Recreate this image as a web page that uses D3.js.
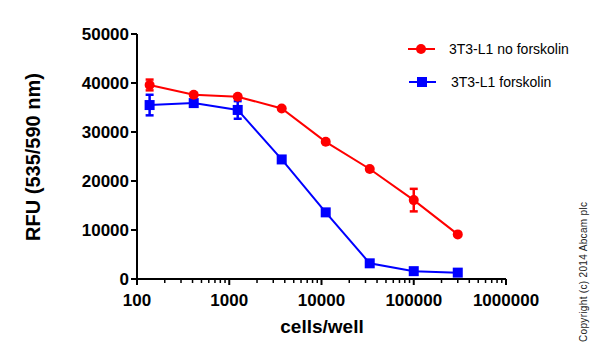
<!DOCTYPE html>
<html><head><meta charset="utf-8">
<script src="https://cdn.jsdelivr.net/npm/d3@7"></script>
<style>body{margin:0;background:#fff;}svg{display:block;font-family:"Liberation Sans",Arial,sans-serif;}</style>
</head><body><svg id="c" width="600" height="355"></svg>
<script>
const cells = [137, 412, 1235, 3704, 11111, 33333, 100000, 300000];
const noForskolin = [39600, 37600, 37200, 34800, 28000, 22450, 16100, 9100];
const noForskolinErr = [1100, 0, 0, 0, 0, 0, 2300, 0];
const forskolin = [35500, 35900, 34500, 24400, 13600, 3200, 1600, 1300];
const forskolinErr = [2100, 0, 1800, 0, 0, 0, 0, 0];
const xTicks = [100, 1000, 10000, 100000, 1000000];
const yTicks = [0, 10000, 20000, 30000, 40000, 50000];
const seriesNames = ["3T3-L1 no forskolin", "3T3-L1 forskolin"];

const svg = d3.select("#c");
const x = d3.scaleLog().domain([100, 1000000]).range([137, 506]);
const y = d3.scaleLinear().domain([0, 50000]).range([279, 34]);

// x axis
const xg = svg.append("g");
xg.append("line").attr("x1", 137).attr("x2", 506).attr("y1", 279).attr("y2", 279).attr("stroke", "#000").attr("stroke-width", 2);
const minor = [];
for (let d = 100; d < 1000000; d *= 10) for (let k = 2; k <= 9; k++) minor.push(d * k);
xg.selectAll(".mn").data(minor).enter().append("line")
  .attr("x1", d => x(d)).attr("x2", d => x(d)).attr("y1", 279).attr("y2", 283)
  .attr("stroke", "#000").attr("stroke-width", 1.5);
xg.selectAll(".mj").data(xTicks).enter().append("line")
  .attr("x1", d => x(d)).attr("x2", d => x(d)).attr("y1", 279).attr("y2", 285)
  .attr("stroke", "#000").attr("stroke-width", 2);
xg.selectAll(".xl").data(xTicks).enter().append("text")
  .attr("x", d => x(d)).attr("y", 306).attr("text-anchor", "middle")
  .attr("font-size", 17).attr("font-weight", "bold").text(d => d);
svg.append("text").attr("x", 322).attr("y", 333).attr("text-anchor", "middle")
  .attr("font-size", 19).attr("font-weight", "bold").text("cells/well");

// y axis
const yg = svg.append("g");
yg.append("line").attr("x1", 137).attr("x2", 137).attr("y1", 34).attr("y2", 280).attr("stroke", "#000").attr("stroke-width", 2);
yg.selectAll(".yt").data(yTicks).enter().append("line")
  .attr("x1", 131).attr("x2", 137).attr("y1", d => y(d)).attr("y2", d => y(d))
  .attr("stroke", "#000").attr("stroke-width", 2);
yg.selectAll(".yl").data(yTicks).enter().append("text")
  .attr("x", 129).attr("y", d => y(d) + 6).attr("text-anchor", "end")
  .attr("font-size", 17).attr("font-weight", "bold").text(d => d);
svg.append("text").attr("transform", "translate(40,157) rotate(-90)").attr("text-anchor", "middle")
  .attr("font-size", 20).attr("font-weight", "bold").text("RFU (535/590 nm)");

const line = d3.line().x(d => x(d[0])).y(d => y(d[1]));
function drawSeries(vals, errs, color, shape) {
  const pts = cells.map((c, i) => [c, vals[i], errs[i]]);
  svg.append("path").datum(pts).attr("d", line).attr("fill", "none").attr("stroke", color).attr("stroke-width", 2);
  const eb = pts.filter(p => p[2] > 0);
  const g = svg.append("g").attr("stroke", color).attr("stroke-width", 2.5);
  eb.forEach(p => {
    const cx = x(p[0]);
    g.append("line").attr("x1", cx).attr("x2", cx).attr("y1", y(p[1] - p[2])).attr("y2", y(p[1] + p[2]));
    g.append("line").attr("x1", cx - 4).attr("x2", cx + 4).attr("y1", y(p[1] - p[2])).attr("y2", y(p[1] - p[2]));
    g.append("line").attr("x1", cx - 4).attr("x2", cx + 4).attr("y1", y(p[1] + p[2])).attr("y2", y(p[1] + p[2]));
  });
  if (shape === "circle") {
    svg.selectAll(null).data(pts).enter().append("circle")
      .attr("cx", d => x(d[0])).attr("cy", d => y(d[1])).attr("r", 5).attr("fill", color);
  } else {
    svg.selectAll(null).data(pts).enter().append("rect")
      .attr("x", d => x(d[0]) - 5).attr("y", d => y(d[1]) - 5).attr("width", 10).attr("height", 10).attr("fill", color);
  }
}
drawSeries(forskolin, forskolinErr, "#0000ff", "square");
drawSeries(noForskolin, noForskolinErr, "#ff0000", "circle");

// legend
const lg = svg.append("g");
lg.append("line").attr("x1", 408).attr("x2", 435).attr("y1", 49).attr("y2", 49).attr("stroke", "#ff0000").attr("stroke-width", 2);
lg.append("circle").attr("cx", 421).attr("cy", 49).attr("r", 5).attr("fill", "#ff0000");
lg.append("text").attr("x", 449).attr("y", 54).attr("font-size", 14).text(seriesNames[0]);
lg.append("line").attr("x1", 409).attr("x2", 436).attr("y1", 82).attr("y2", 82).attr("stroke", "#0000ff").attr("stroke-width", 2);
lg.append("rect").attr("x", 417).attr("y", 77).attr("width", 10).attr("height", 10).attr("fill", "#0000ff");
lg.append("text").attr("x", 451).attr("y", 87).attr("font-size", 14).text(seriesNames[1]);

svg.append("text").attr("transform", "translate(587,272) rotate(-90)").attr("text-anchor", "middle")
  .attr("font-size", 10).attr("fill", "#222").attr("textLength", 140).attr("lengthAdjust", "spacing")
  .text("Copyright (c) 2014 Abcam plc");
</script></body></html>
